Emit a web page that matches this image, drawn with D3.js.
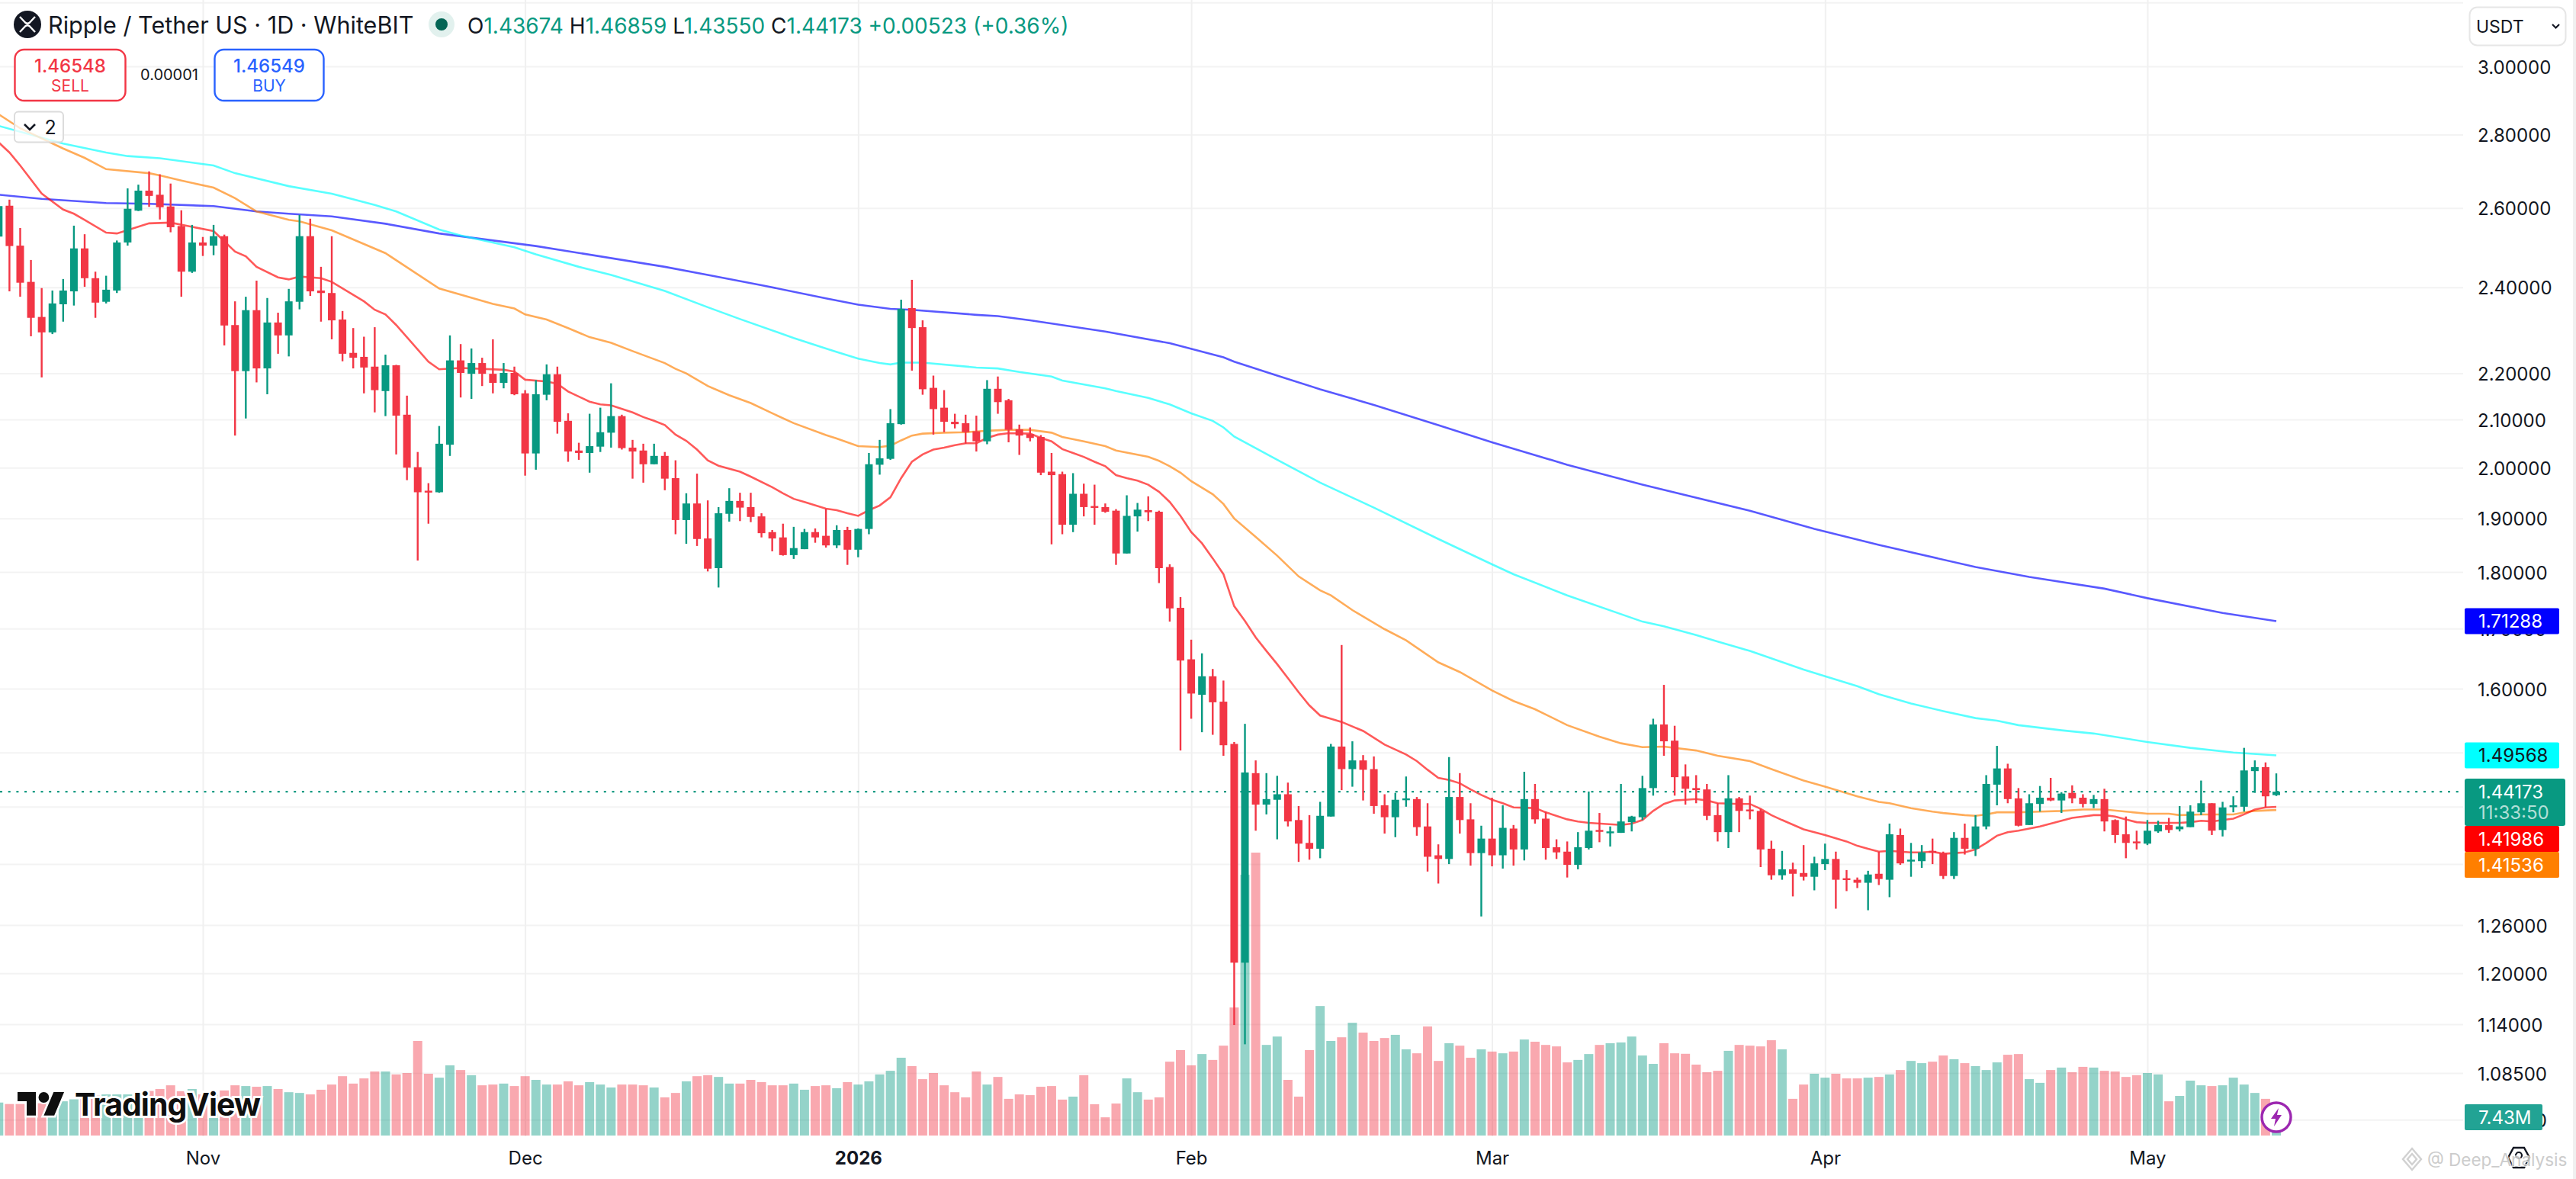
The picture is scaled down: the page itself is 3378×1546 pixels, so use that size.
<!DOCTYPE html>
<html>
<head>
<meta charset="utf-8">
<title>XRPUSDT</title>
<script src="https://cdn.jsdelivr.net/npm/d3@7"></script>
<style>
  html, body { margin: 0; padding: 0; background: #fff; }
  svg { display: block; font-family: Inter, "Noto Sans", sans-serif; }
</style>
</head>
<body>
<svg id="chart" width="3378" height="1546"></svg>
<script>
// daily bars, first bar is 13 Oct 2025
const firstBar = new Date(Date.UTC(2025, 9, 13));

const opens = [2.526,2.606,2.503,2.413,2.329,2.293,2.359,2.390,2.496,2.422,
  2.365,2.392,2.511,2.593,2.646,2.635,2.604,2.553,2.438,2.511,
  2.503,2.527,2.310,2.205,2.345,2.211,2.316,2.286,2.365,2.527,
  2.392,2.386,2.323,2.246,2.237,2.215,2.161,2.218,2.110,2.001,
  1.954,1.951,2.047,2.229,2.199,2.223,2.199,2.179,2.201,2.156,
  2.029,2.153,2.198,2.097,2.035,2.030,2.043,2.072,2.107,2.041,
  2.035,2.007,2.024,1.979,1.897,1.929,1.862,1.807,1.909,1.934,
  1.922,1.904,1.874,1.864,1.831,1.842,1.874,1.867,1.849,1.878,
  1.841,1.880,2.006,2.018,2.090,2.350,2.305,2.168,2.125,2.095,
  2.092,2.075,2.054,2.166,2.141,2.079,2.069,2.063,1.992,1.987,
  1.888,1.948,1.924,1.922,1.915,1.834,1.904,1.916,1.913,1.809,
  1.736,1.648,1.590,1.620,1.579,1.513,1.213,1.469,1.423,1.430,
  1.438,1.401,1.369,1.361,1.406,1.509,1.475,1.488,1.475,1.422,
  1.405,1.430,1.431,1.392,1.352,1.347,1.434,1.402,1.355,1.375,
  1.352,1.389,1.360,1.431,1.403,1.363,1.357,1.339,1.362,1.387,
  1.383,1.383,1.398,1.405,1.447,1.543,1.518,1.464,1.447,1.445,
  1.408,1.384,1.432,1.416,1.414,1.361,1.325,1.333,1.328,1.323,
  1.340,1.347,1.321,1.319,1.315,1.327,1.319,1.380,1.344,1.344,
  1.358,1.355,1.324,1.376,1.361,1.392,1.452,1.476,1.432,1.394,
  1.424,1.433,1.429,1.440,1.433,1.424,1.431,1.401,1.381,1.371,
  1.368,1.385,1.394,1.388,1.391,1.412,1.425,1.387,1.421,1.420,
  1.472,1.478,1.43674];

const highs = [2.622,2.622,2.548,2.467,2.398,2.392,2.420,2.554,2.532,2.438,
  2.428,2.516,2.652,2.662,2.698,2.690,2.665,2.594,2.556,2.525,
  2.556,2.531,2.366,2.377,2.416,2.374,2.339,2.396,2.582,2.572,
  2.450,2.527,2.343,2.303,2.283,2.305,2.242,2.219,2.151,2.032,
  1.969,2.086,2.286,2.266,2.256,2.235,2.277,2.223,2.215,2.163,
  2.185,2.220,2.215,2.113,2.051,2.112,2.125,2.178,2.110,2.057,
  2.049,2.049,2.032,2.015,1.949,1.988,1.935,1.922,1.959,1.950,
  1.950,1.910,1.878,1.890,1.884,1.880,1.881,1.919,1.887,1.884,
  1.881,2.030,2.057,2.122,2.370,2.418,2.321,2.195,2.163,2.112,
  2.110,2.108,2.185,2.193,2.144,2.089,2.083,2.067,2.030,1.992,
  1.989,1.968,1.966,1.929,1.918,1.945,1.930,1.943,1.915,1.814,
  1.755,1.681,1.658,1.632,1.613,1.516,1.544,1.488,1.469,1.465,
  1.455,1.421,1.408,1.427,1.513,1.672,1.517,1.496,1.494,1.438,
  1.440,1.464,1.434,1.425,1.367,1.493,1.469,1.425,1.393,1.433,
  1.422,1.394,1.471,1.453,1.413,1.374,1.371,1.384,1.442,1.411,
  1.392,1.453,1.407,1.465,1.552,1.606,1.541,1.482,1.466,1.453,
  1.425,1.466,1.434,1.436,1.417,1.372,1.358,1.342,1.366,1.350,
  1.368,1.357,1.332,1.322,1.331,1.357,1.396,1.389,1.369,1.366,
  1.375,1.357,1.384,1.396,1.408,1.466,1.510,1.483,1.447,1.438,
  1.450,1.462,1.441,1.451,1.438,1.437,1.446,1.402,1.406,1.386,
  1.401,1.400,1.404,1.421,1.422,1.458,1.425,1.427,1.435,1.507,
  1.488,1.485,1.46859];

const lows = [2.511,2.390,2.377,2.284,2.191,2.289,2.318,2.356,2.401,2.327,
  2.361,2.386,2.503,2.592,2.603,2.570,2.537,2.377,2.435,2.477,
  2.479,2.263,2.066,2.102,2.180,2.154,2.244,2.238,2.347,2.379,
  2.318,2.277,2.227,2.211,2.156,2.115,2.107,2.027,1.975,1.821,
  1.890,1.950,2.024,2.147,2.144,2.172,2.156,2.167,2.152,1.984,
  1.996,2.141,2.070,2.012,2.016,1.990,2.032,2.041,2.037,1.978,
  1.970,2.007,1.955,1.870,1.852,1.848,1.801,1.772,1.894,1.895,
  1.893,1.864,1.838,1.830,1.824,1.842,1.854,1.845,1.844,1.813,
  1.827,1.870,1.986,2.016,2.089,2.206,2.153,2.068,2.073,2.081,
  2.049,2.033,2.048,2.112,2.052,2.026,2.054,1.985,1.851,1.870,
  1.874,1.904,1.888,1.911,1.813,1.834,1.875,1.895,1.780,1.712,
  1.503,1.552,1.531,1.527,1.495,1.139,1.117,1.386,1.409,1.374,
  1.392,1.343,1.346,1.348,1.406,1.444,1.449,1.429,1.410,1.382,
  1.377,1.420,1.379,1.330,1.314,1.340,1.382,1.338,1.271,1.337,
  1.334,1.338,1.345,1.396,1.346,1.347,1.322,1.333,1.360,1.370,
  1.364,1.383,1.385,1.401,1.436,1.495,1.436,1.423,1.425,1.401,
  1.371,1.362,1.384,1.402,1.336,1.319,1.319,1.297,1.318,1.305,
  1.332,1.281,1.304,1.308,1.279,1.312,1.296,1.339,1.323,1.335,
  1.340,1.320,1.320,1.353,1.351,1.388,1.422,1.425,1.392,1.394,
  1.413,1.428,1.411,1.425,1.419,1.418,1.385,1.369,1.348,1.360,
  1.366,1.383,1.383,1.385,1.391,1.408,1.380,1.378,1.412,1.413,
  1.440,1.419,1.4355];

const closes = [2.605,2.502,2.411,2.327,2.293,2.361,2.392,2.496,2.422,2.363,
  2.394,2.511,2.598,2.646,2.632,2.602,2.550,2.438,2.511,2.503,
  2.527,2.309,2.205,2.345,2.211,2.316,2.286,2.366,2.527,2.390,
  2.386,2.321,2.244,2.235,2.213,2.163,2.218,2.108,2.000,1.951,
  1.951,2.049,2.229,2.201,2.223,2.199,2.179,2.201,2.154,2.029,
  2.154,2.198,2.095,2.033,2.030,2.044,2.073,2.107,2.040,2.033,
  2.007,2.024,1.978,1.897,1.929,1.861,1.806,1.910,1.934,1.921,
  1.903,1.872,1.862,1.831,1.844,1.874,1.864,1.849,1.878,1.841,
  1.880,2.007,2.019,2.092,2.348,2.303,2.165,2.122,2.095,2.090,
  2.073,2.054,2.166,2.137,2.078,2.066,2.061,1.990,1.985,1.888,
  1.948,1.922,1.921,1.913,1.834,1.905,1.917,1.912,1.807,1.735,
  1.646,1.592,1.620,1.578,1.511,1.213,1.470,1.423,1.431,1.438,
  1.399,1.368,1.361,1.407,1.509,1.475,1.488,1.474,1.421,1.405,
  1.430,1.432,1.391,1.350,1.347,1.434,1.401,1.355,1.375,1.352,
  1.390,1.360,1.431,1.402,1.362,1.356,1.339,1.363,1.386,1.385,
  1.385,1.399,1.406,1.447,1.543,1.517,1.463,1.446,1.444,1.407,
  1.384,1.432,1.414,1.414,1.360,1.325,1.333,1.327,1.323,1.341,
  1.347,1.319,1.319,1.315,1.326,1.320,1.381,1.341,1.346,1.356,
  1.356,1.324,1.376,1.361,1.392,1.453,1.476,1.431,1.393,1.425,
  1.433,1.429,1.439,1.432,1.424,1.431,1.399,1.380,1.369,1.369,
  1.386,1.394,1.387,1.392,1.413,1.425,1.386,1.419,1.422,1.473,
  1.478,1.435,1.44173];

// volume in millions
const volumes = [13.4,12.8,12.8,13.1,13.1,10.0,13.9,14.7,16.2,16.2,
  16.7,16.7,16.7,17.2,18.1,18.9,20.4,18.0,18.9,16.7,
  16.7,18.3,20.4,20.1,19.8,20.1,18.9,17.6,17.3,16.7,
  18.6,20.7,24.1,21.1,23.2,26.0,26.0,24.8,25.4,38.4,
  25.1,23.5,28.5,26.6,24.5,20.4,20.7,21.1,20.1,24.1,
  22.6,20.7,20.7,22.0,20.4,21.7,20.7,19.5,20.7,20.7,
  20.4,19.5,15.5,17.3,22.0,24.1,24.5,23.8,21.1,21.1,
  22.6,21.7,20.4,20.4,21.1,18.6,20.1,20.4,19.2,21.7,
  20.7,22.0,24.8,26.3,31.6,28.2,22.9,25.4,20.4,17.6,
  15.5,26.0,20.7,23.8,14.9,16.7,16.4,19.8,20.1,14.6,
  15.8,24.5,12.7,7.4,13.0,23.2,17.6,14.6,15.5,30.0,
  34.7,28.5,33.1,30.7,36.5,52.0,105.9,114.9,36.8,40.2,
  22.6,15.8,34.7,52.6,38.4,39.9,45.8,41.8,38.4,39.6,
  40.9,35.0,33.4,44.3,30.3,37.5,36.5,31.6,35.0,34.1,
  33.4,34.1,39.0,38.1,36.8,36.2,29.7,30.7,33.1,36.8,
  37.5,37.8,40.2,32.5,29.1,37.5,33.4,33.2,28.8,25.7,
  26.3,34.4,36.8,36.5,36.2,38.7,35.0,14.9,20.7,25.1,
  23.5,25.1,23.2,23.2,23.5,23.8,24.8,26.6,30.3,29.4,
  30.0,32.5,31.0,29.4,28.2,26.6,29.7,32.8,33.1,22.9,
  21.4,26.6,27.6,25.7,27.9,27.6,26.3,26.0,23.8,24.5,
  25.4,24.8,13.9,16.1,22.3,20.4,20.1,20.4,23.5,20.7,
  17.3,14.9,7.43];

// moving averages as [bar number, price]
const redLine = [[0,2.778],[1,2.750],[2,2.714],[4,2.638],[6,2.596],[7,2.585],[8,2.569],[10,2.536],[11,2.534],[14,2.560],
  [16,2.562],[20,2.540],[22,2.488],[23,2.476],[24,2.450],[26,2.424],[27,2.419],[28,2.426],[30,2.422],[31,2.413],
  [34,2.366],[35,2.346],[36,2.335],[37,2.310],[40,2.226],[41,2.209],[43,2.212],[47,2.208],[48,2.204],[49,2.186],
  [51,2.182],[52,2.177],[53,2.160],[55,2.138],[56,2.132],[57,2.130],[59,2.115],[60,2.105],[61,2.097],[62,2.088],
  [63,2.068],[64,2.055],[65,2.037],[66,2.015],[67,2.004],[69,1.992],[70,1.982],[72,1.961],[73,1.949],[74,1.938],
  [75,1.932],[77,1.919],[78,1.916],[79,1.910],[80,1.905],[81,1.916],[82,1.925],[83,1.941],[84,1.979],[85,2.012],
  [86,2.027],[87,2.037],[88,2.041],[89,2.046],[90,2.050],[91,2.050],[92,2.061],[93,2.068],[94,2.071],[96,2.070],
  [97,2.061],[98,2.054],[99,2.038],[100,2.030],[101,2.022],[102,2.012],[103,2.003],[104,1.985],[105,1.979],[106,1.974],
  [107,1.966],[108,1.952],[109,1.932],[110,1.905],[111,1.874],[112,1.853],[113,1.825],[114,1.796],[115,1.739],[116,1.713],
  [117,1.685],[118,1.662],[119,1.640],[120,1.617],[121,1.594],[122,1.573],[123,1.557],[124,1.552],[125,1.547],[127,1.533],
  [129,1.512],[131,1.497],[132,1.487],[133,1.474],[134,1.462],[135,1.459],[136,1.454],[137,1.445],[138,1.437],[139,1.430],
  [140,1.425],[141,1.419],[143,1.418],[144,1.412],[146,1.402],[147,1.399],[148,1.397],[151,1.394],[152,1.396],[153,1.401],
  [154,1.414],[155,1.424],[156,1.429],[157,1.430],[158,1.431],[159,1.429],[160,1.425],[162,1.424],[163,1.424],[164,1.417],
  [165,1.408],[166,1.401],[168,1.388],[170,1.380],[172,1.371],[173,1.365],[174,1.361],[175,1.357],[176,1.358],[178,1.356],
  [179,1.356],[180,1.357],[181,1.354],[182,1.355],[183,1.356],[184,1.360],[185,1.369],[186,1.379],[187,1.384],[188,1.386],
  [189,1.389],[190,1.392],[192,1.400],[193,1.404],[194,1.406],[195,1.408],[196,1.408],[197,1.406],[198,1.402],[199,1.398],
  [200,1.397],[203,1.397],[204,1.398],[205,1.400],[206,1.399],[207,1.401],[208,1.403],[209,1.409],[210,1.416],[211,1.419],
  [212,1.41986]];

const orangeLine = [[0,2.858],[2,2.818],[6,2.761],[8,2.735],[10,2.704],[14,2.693],[15,2.687],[17,2.673],[20,2.654],[22,2.626],
  [24,2.591],[27,2.569],[28,2.565],[31,2.542],[36,2.484],[41,2.397],[46,2.360],[48,2.349],[49,2.335],[51,2.323],
  [53,2.303],[55,2.282],[57,2.269],[59,2.250],[62,2.223],[63,2.210],[64,2.200],[66,2.172],[68,2.152],[70,2.135],
  [72,2.113],[74,2.092],[77,2.067],[78,2.060],[80,2.044],[82,2.042],[83,2.045],[84,2.056],[85,2.066],[86,2.070],
  [88,2.072],[90,2.073],[92,2.076],[94,2.078],[96,2.078],[98,2.072],[99,2.063],[101,2.054],[103,2.044],[104,2.035],
  [107,2.022],[108,2.014],[109,2.003],[110,1.990],[111,1.973],[113,1.947],[114,1.928],[115,1.900],[117,1.865],[119,1.830],
  [121,1.792],[123,1.767],[124,1.758],[126,1.732],[129,1.699],[131,1.680],[134,1.643],[136,1.627],[139,1.597],[141,1.580],
  [143,1.567],[146,1.542],[149,1.524],[151,1.514],[153,1.508],[155,1.509],[158,1.503],[160,1.495],[163,1.487],[165,1.475],
  [168,1.458],[170,1.449],[173,1.435],[175,1.427],[176,1.425],[178,1.418],[180,1.413],[181,1.411],[183,1.408],[184,1.407],
  [185,1.409],[186,1.412],[188,1.412],[190,1.413],[192,1.414],[194,1.416],[196,1.416],[198,1.413],[200,1.410],[202,1.410],
  [203,1.408],[205,1.409],[207,1.409],[208,1.409],[209,1.412],[210,1.414],[212,1.41536]];

const cyanLine = [[0,2.825],[6,2.775],[10,2.750],[12,2.740],[15,2.734],[20,2.714],[22,2.693],[27,2.658],[31,2.638],[35,2.608],
  [37,2.591],[41,2.544],[43,2.529],[48,2.499],[50,2.481],[54,2.450],[57,2.430],[62,2.391],[66,2.352],[69,2.324],
  [74,2.280],[77,2.256],[78,2.248],[80,2.233],[82,2.223],[83,2.220],[84,2.224],[86,2.224],[91,2.213],[93,2.211],
  [95,2.203],[98,2.193],[99,2.184],[103,2.167],[104,2.161],[107,2.146],[109,2.132],[111,2.113],[113,2.097],[114,2.083],
  [115,2.064],[119,2.016],[123,1.970],[128,1.921],[134,1.861],[139,1.814],[141,1.796],[146,1.758],[153,1.712],[155,1.704],
  [158,1.689],[160,1.678],[163,1.662],[168,1.631],[170,1.620],[173,1.604],[175,1.591],[178,1.576],[181,1.564],[184,1.553],
  [186,1.549],[188,1.542],[192,1.534],[195,1.529],[200,1.516],[204,1.507],[208,1.500],[212,1.49568]];

const blueLine = [[0,2.635],[4,2.624],[10,2.613],[14,2.611],[20,2.605],[24,2.591],[27,2.585],[31,2.578],[36,2.559],[41,2.534],
  [50,2.502],[62,2.450],[66,2.430],[71,2.405],[77,2.373],[80,2.358],[83,2.348],[85,2.346],[91,2.334],[93,2.331],
  [96,2.321],[103,2.295],[109,2.268],[114,2.236],[115,2.226],[119,2.195],[123,2.165],[128,2.131],[134,2.088],[139,2.052],
  [146,2.006],[153,1.966],[163,1.915],[169,1.880],[175,1.850],[184,1.809],[189,1.791],[196,1.770],[200,1.753],[207,1.727],
  [212,1.71288]];

const priceTicks = [3.2,3.0,2.8,2.6,2.4,2.2,2.1,2.0,1.9,1.8,1.7,1.6,1.5,1.42,1.34,1.26,1.2,1.14,1.085,1.035];
const monthTicks = [[2025,10],[2025,11],[2026,0],[2026,1],[2026,2],[2026,3],[2026,4]];
const monthLabels = ["Nov","Dec","2026","Feb","Mar","Apr","May"];

const lastPrice = 1.44173;
const maLabels = [
  { price: 1.71288, text: "1.71288", fill: "#0000ff", color: "#fff" },
  { price: 1.49568, text: "1.49568", fill: "#00ffff", color: "#131722" },
  { price: 1.41986, text: "1.41986", fill: "#ff0000", color: "#fff" },
  { price: 1.41536, text: "1.41536", fill: "#ff7f00", color: "#fff" }
];

const green = "#089981", red = "#f23645";
const bars = opens.map((o, i) => ({
  date: d3.utcDay.offset(firstBar, i),
  open: o, high: highs[i], low: lows[i], close: closes[i], vol: volumes[i],
  up: closes[i] >= o
}));

const svg = d3.select("#chart");
const chartRight = 3230;

const x = d3.scaleUtc()
  .domain([bars[0].date, bars[212].date])
  .range([-1.7, 2985]);
const y = d3.scaleLog().domain([3, 1.26]).range([87, 1213]);
const yVol = d3.scaleLinear().domain([0, 114.9]).range([1489, 1118]);

// grid
const grid = svg.append("g");
grid.append("g")
  .call(d3.axisLeft(y).tickValues(priceTicks).tickSize(-chartRight).tickFormat(""))
  .call(g => g.select(".domain").remove())
  .selectAll("line").attr("stroke", "#f3f3f3").attr("stroke-width", 2);
grid.append("g")
  .attr("transform", "translate(0,1490)")
  .call(d3.axisBottom(x)
    .tickValues(monthTicks.map(m => new Date(Date.UTC(m[0], m[1], 1))))
    .tickSize(-1490).tickPadding(20)
    .tickFormat((d, i) => monthLabels[i]))
  .call(g => g.select(".domain").remove())
  .call(g => g.selectAll("line").attr("stroke", "#f0f0f0").attr("stroke-width", 2))
  .call(g => g.selectAll("text").attr("font-size", 24).attr("font-family", "Inter").attr("fill", "#131722")
    .attr("font-weight", (d, i) => i == 2 ? 700 : 400));

// volume
svg.append("g").selectAll("rect")
  .data(bars).enter().append("rect")
  .attr("x", d => x(d.date) - 6)
  .attr("width", 12)
  .attr("y", d => yVol(d.vol))
  .attr("height", d => yVol(0) - yVol(d.vol))
  .attr("fill", d => d.up ? green : red)
  .attr("opacity", 0.43);

// moving averages, drawn under the candles
const maPath = d3.line().x(d => x(bars[d[0]].date)).y(d => y(d[1]));
[[blueLine, "#0000ff"], [cyanLine, "#00ffff"], [orangeLine, "#ff7f00"], [redLine, "#ff0000"]].forEach(s => {
  svg.append("path").datum(s[0])
    .attr("d", maPath)
    .attr("fill", "none")
    .attr("stroke", s[1])
    .attr("stroke-opacity", 0.65)
    .attr("stroke-width", 2.6);
});

// last price line
svg.append("line")
  .attr("x1", 0).attr("x2", chartRight)
  .attr("y1", y(lastPrice)).attr("y2", y(lastPrice))
  .attr("stroke", green).attr("stroke-width", 2.2)
  .attr("stroke-dasharray", "3 7.7");

// candles
const candle = svg.append("g").selectAll("g")
  .data(bars).enter().append("g")
  .attr("fill", d => d.up ? green : red);
candle.append("rect")
  .attr("x", d => x(d.date) - 1.2)
  .attr("width", 2.4)
  .attr("y", d => y(d.high))
  .attr("height", d => y(d.low) - y(d.high));
candle.append("rect")
  .attr("x", d => x(d.date) - 5)
  .attr("width", 10)
  .attr("y", d => y(Math.max(d.open, d.close)))
  .attr("height", d => Math.max(2.4, Math.abs(y(d.open) - y(d.close))));

// price scale
svg.append("rect").attr("x", 3374).attr("y", 0).attr("width", 4).attr("height", 1546).attr("fill", "#f0f0f0");
svg.append("g")
  .attr("transform", "translate(3249,0)")
  .call(d3.axisRight(y).tickValues(priceTicks.slice(1)).tickSize(0).tickPadding(0).tickFormat(d => d.toFixed(5)))
  .call(g => g.select(".domain").remove())
  .call(g => g.selectAll("text").attr("font-size", 24).attr("dy", "0.38em").attr("font-family", "Inter").attr("fill", "#131722"));

function priceBadge(py, text, fill, color) {
  svg.append("rect").attr("x", 3232).attr("y", py - 17).attr("width", 124).attr("height", 34)
    .attr("rx", 2).attr("fill", fill);
  svg.append("text").attr("x", 3250).attr("y", py + 9).attr("font-size", 24).attr("fill", color).text(text);
}
maLabels.slice(0, 2).forEach(m => priceBadge(y(m.price), m.text, m.fill, m.color));
svg.append("rect").attr("x", 3232).attr("y", 1021).attr("width", 132).attr("height", 62).attr("rx", 3).attr("fill", green);
svg.append("text").attr("x", 3250).attr("y", 1047).attr("font-size", 24).attr("fill", "#fff").text(lastPrice.toFixed(5));
svg.append("text").attr("x", 3250).attr("y", 1074).attr("font-size", 24).attr("fill", "#fff").attr("fill-opacity", 0.7).text("11:33:50");
priceBadge(1100, maLabels[2].text, maLabels[2].fill, maLabels[2].color);
priceBadge(1134, maLabels[3].text, maLabels[3].fill, maLabels[3].color);

svg.append("rect").attr("x", 3232).attr("y", 1448).attr("width", 102).attr("height", 34).attr("rx", 2).attr("fill", "#22a394");
svg.append("text").attr("x", 3250).attr("y", 1474).attr("font-size", 24).attr("fill", "#fff").text("7.43M");

// currency box
svg.append("rect").attr("x", 3238.5).attr("y", 9.5).attr("width", 126).attr("height", 50).attr("rx", 10)
  .attr("fill", "#fff").attr("stroke", "#e6e6e6").attr("stroke-width", 2);
svg.append("text").attr("x", 3247).attr("y", 43).attr("font-size", 23).attr("fill", "#131722").text("USDT");
svg.append("path").attr("d", "M3347,32l4.5,4.5l4.5,-4.5").attr("fill", "none").attr("stroke", "#131722").attr("stroke-width", 2.2);

// header
const head = svg.append("g");
head.append("circle").attr("cx", 36).attr("cy", 32).attr("r", 18).attr("fill", "#131722");
head.append("path")
  .attr("d", "M26,22L33,29.5Q36,32 39,29.5L46,22M26,42L33,34.5Q36,32 39,34.5L46,42")
  .attr("fill", "none").attr("stroke", "#fff").attr("stroke-width", 2.4);
head.append("text").attr("x", 63).attr("y", 44).attr("font-size", 30.6).attr("fill", "#131722")
  .text("Ripple / Tether US · 1D · WhiteBIT");
head.append("circle").attr("cx", 579).attr("cy", 32).attr("r", 17).attr("fill", "#e2f1ee");
head.append("circle").attr("cx", 579).attr("cy", 32).attr("r", 8).attr("fill", "#056656");
const ohlc = head.append("text").attr("x", 613).attr("y", 44).attr("font-size", 28).attr("fill", green);
[["O", 1], ["1.43674", 0], [" H", 1], ["1.46859", 0], [" L", 1], ["1.43550", 0], [" C", 1], ["1.44173", 0], [" +0.00523 (+0.36%)", 0]]
  .forEach(p => ohlc.append("tspan").attr("fill", p[1] ? "#131722" : green).attr("xml:space", "preserve").text(p[0]));

// trade buttons
function tradeBox(bx, width, price, label, color) {
  svg.append("rect").attr("x", bx).attr("y", 65).attr("width", width).attr("height", 67).attr("rx", 12)
    .attr("fill", "#fff").attr("stroke", color).attr("stroke-width", 2.4);
  svg.append("text").attr("x", bx + width / 2).attr("y", 95).attr("text-anchor", "middle")
    .attr("font-size", 24).attr("font-weight", 500).attr("fill", color).text(price);
  svg.append("text").attr("x", bx + width / 2).attr("y", 120).attr("text-anchor", "middle")
    .attr("font-size", 21).attr("fill", color).text(label);
}
tradeBox(19.5, 145, "1.46548", "SELL", red);
tradeBox(281.5, 143, "1.46549", "BUY", "#2962ff");
svg.append("text").attr("x", 222).attr("y", 105).attr("text-anchor", "middle").attr("font-size", 20).attr("fill", "#131722").text("0.00001");

// indicators collapse box
svg.append("rect").attr("x", 19).attr("y", 146.5).attr("width", 64).attr("height", 40).attr("rx", 5)
  .attr("fill", "#fff").attr("fill-opacity", 0.75).attr("stroke", "#dcdcdc").attr("stroke-width", 2);
svg.append("path").attr("d", "M32,163l7,7l7,-7").attr("fill", "none").attr("stroke", "#131722").attr("stroke-width", 2.6);
svg.append("text").attr("x", 66).attr("y", 176).attr("text-anchor", "middle").attr("font-size", 25).attr("fill", "#131722").text("2");

// tradingview logo
const logo = svg.append("g");
logo.append("path")
  .attr("transform", "translate(23,1425) scale(1.72)")
  .attr("d", "M14 22H7V11H0V4h14v18zM28 22h-8l7.5-18h8L28 22z")
  .attr("fill", "#0f0f0f").attr("stroke", "#fff").attr("stroke-width", 3).attr("paint-order", "stroke");
logo.append("circle").attr("cx", 57.4).attr("cy", 1439).attr("r", 6.9)
  .attr("fill", "#0f0f0f").attr("stroke", "#fff").attr("stroke-width", 4).attr("paint-order", "stroke");
logo.append("text").attr("x", 98).attr("y", 1463).attr("font-size", 41).attr("font-weight", 700).attr("letter-spacing", -1)
  .attr("fill", "#0f0f0f").attr("stroke", "#fff").attr("stroke-width", 6).attr("paint-order", "stroke").text("TradingView");

// lightning mark on the last bar
const bolt = svg.append("g").attr("transform", "translate(2985,1465)");
bolt.append("circle").attr("r", 19).attr("fill", "#fff").attr("stroke", "#9c27b0").attr("stroke-width", 3.4);
bolt.append("path").attr("d", "M3,-12L-7,2L-1,2L-3,12L7,-3L1,-3Z").attr("fill", "#9c27b0");

// hexagon button and watermark
svg.append("path").attr("d", "M3296,1505h14l7,13l-7,13h-14l-7,-13z").attr("fill", "#fff").attr("stroke", "#131722").attr("stroke-width", 2.4);
svg.append("circle").attr("cx", 3303).attr("cy", 1515).attr("r", 4).attr("fill", "none").attr("stroke", "#131722").attr("stroke-width", 2.2);
const wm = svg.append("g").attr("opacity", 0.85);
wm.append("path").attr("d", "M3163,1506l12,14l-12,14l-12,-14zM3163,1513l6,7l-6,7l-6,-7z").attr("fill", "none").attr("stroke", "#c9c9c9").attr("stroke-width", 2.4);
wm.append("text").attr("x", 3183).attr("y", 1529).attr("font-size", 22.5).attr("fill", "#c4c4c4")
  .attr("stroke", "#fff").attr("stroke-width", 2).attr("paint-order", "stroke").text("@ Deep_Analysis");
</script>
</body>
</html>
